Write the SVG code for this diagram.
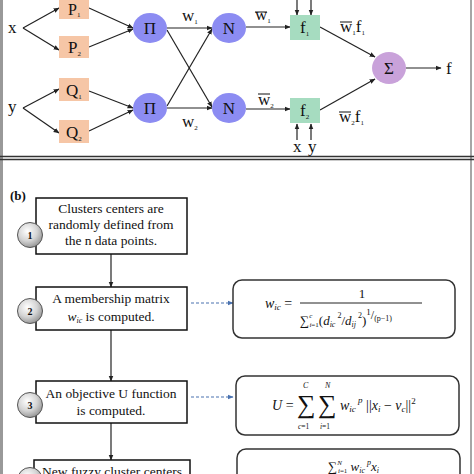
<svg xmlns="http://www.w3.org/2000/svg" width="474" height="474" viewBox="0 0 474 474">
<defs>
<marker id="ah" viewBox="0 0 10 10" refX="9" refY="5" markerWidth="6" markerHeight="6" orient="auto" markerUnits="userSpaceOnUse"><path d="M0,1 L10,5 L0,9 Z" fill="#222"/></marker>
<marker id="ahb" viewBox="0 0 10 10" refX="9" refY="5" markerWidth="6" markerHeight="6" orient="auto" markerUnits="userSpaceOnUse"><path d="M0,1 L10,5 L0,9 Z" fill="#4a72b0"/></marker>
<radialGradient id="gb" cx="0.4" cy="0.35" r="0.7"><stop offset="0" stop-color="#ffffff"/><stop offset="0.55" stop-color="#d4d4d4"/><stop offset="1" stop-color="#8f8f8f"/></radialGradient>
<style>
text{font-family:"Liberation Serif","Times New Roman",serif;fill:#111}
.lbl{font-size:17px}
.sub{font-size:7px}
.box{fill:#f6c6a6}
.fbox{fill:#a6dcc0}
.pi{fill:#8c8cf2}
.sig{fill:#c9a2da}
.ln{stroke:#222;stroke-width:1.2;fill:none}
.step{fill:#fff;stroke:#111;stroke-width:1.5}
.frm{fill:#fff;stroke:#333;stroke-width:1.5}
.num{fill:url(#gb);stroke:#555;stroke-width:1}
.bt{font-size:13.5px;text-anchor:middle}
.nt{font-size:10px;font-weight:bold;text-anchor:middle}
.mi{font-style:italic}
.dash{stroke:#4a72b0;stroke-width:1.2;stroke-dasharray:3,2;fill:none}
.frame{fill:none;stroke:#999;stroke-width:3}
</style>
</defs>
<rect width="474" height="474" fill="#fff"/>
<line x1="1.5" y1="0" x2="1.5" y2="474" class="frame"/>
<line x1="471" y1="0" x2="471" y2="474" stroke="#888" stroke-width="1.5"/>
<line x1="0" y1="156.5" x2="474" y2="156.5" stroke="#333" stroke-width="1.5"/>
<line x1="0" y1="159.5" x2="474" y2="159.5" stroke="#333" stroke-width="1.5"/>

<g id="connectors-a">
<path class="ln" d="M23,28 L59,8" marker-end="url(#ah)"/>
<path class="ln" d="M23,28 L59,50" marker-end="url(#ah)"/>
<path class="ln" d="M23,108 L59,89" marker-end="url(#ah)"/>
<path class="ln" d="M23,108 L59,133" marker-end="url(#ah)"/>
<path class="ln" d="M89,8 L133,28" marker-end="url(#ah)"/>
<path class="ln" d="M89,47 L133,29" marker-end="url(#ah)"/>
<path class="ln" d="M89,91 L133,108" marker-end="url(#ah)"/>
<path class="ln" d="M89,131 L133,110" marker-end="url(#ah)"/>
<path class="ln" d="M167,28 L212,28" marker-end="url(#ah)"/>
<path class="ln" d="M167,108 L212,108" marker-end="url(#ah)"/>
<path class="ln" d="M167,30 L212,107" marker-end="url(#ah)"/>
<path class="ln" d="M167,106 L212,29" marker-end="url(#ah)"/>
<path class="ln" d="M246,27 L290,27" marker-end="url(#ah)"/>
<path class="ln" d="M246,109 L290,109" marker-end="url(#ah)"/>
<path class="ln" d="M297,0 L297,15" marker-end="url(#ah)"/>
<path class="ln" d="M311,0 L311,15" marker-end="url(#ah)"/>
<path class="ln" d="M297,140 L297,124" marker-end="url(#ah)"/>
<path class="ln" d="M311,140 L311,124" marker-end="url(#ah)"/>
<path class="ln" d="M320,27 L375,57" marker-end="url(#ah)"/>
<path class="ln" d="M320,110 L375,79" marker-end="url(#ah)"/>
<path class="ln" d="M406,68 L441,68" marker-end="url(#ah)"/>
</g>

<g id="in-x"><text x="8" y="33" class="lbl">x</text></g>
<g id="in-y"><text x="8" y="112" class="lbl">y</text></g>
<g id="P1"><rect x="59" y="-3" width="30" height="22" class="box"/><text x="68" y="15" font-size="16">P<tspan class="sub" dy="2">1</tspan></text></g>
<g id="P2"><rect x="59" y="36" width="30" height="22" class="box"/><text x="68" y="53" class="lbl">P<tspan class="sub" dy="3">2</tspan></text></g>
<g id="Q1"><rect x="59" y="78" width="30" height="23" class="box"/><text x="66" y="96" class="lbl">Q<tspan class="sub" dy="3">1</tspan></text></g>
<g id="Q2"><rect x="59" y="120" width="30" height="23" class="box"/><text x="66" y="138" class="lbl">Q<tspan class="sub" dy="3">2</tspan></text></g>
<g id="Pi1"><ellipse cx="150" cy="28" rx="17" ry="15" class="pi"/><text x="150" y="34" class="lbl" text-anchor="middle" fill="#1a1a4a">Π</text></g>
<g id="Pi2"><ellipse cx="150" cy="108" rx="17" ry="15" class="pi"/><text x="150" y="114" class="lbl" text-anchor="middle" fill="#1a1a4a">Π</text></g>
<g id="N1"><ellipse cx="229" cy="28" rx="17" ry="15" class="pi"/><text x="229" y="34" class="lbl" text-anchor="middle" fill="#1a1a4a">N</text></g>
<g id="N2"><ellipse cx="229" cy="108" rx="17" ry="15" class="pi"/><text x="229" y="114" class="lbl" text-anchor="middle" fill="#1a1a4a">N</text></g>
<g id="f1"><rect x="290" y="15" width="30" height="25" class="fbox"/><text x="300" y="33" class="lbl">f<tspan class="sub" dy="3">1</tspan></text></g>
<g id="f2"><rect x="290" y="98" width="30" height="25" class="fbox"/><text x="300" y="116" class="lbl">f<tspan class="sub" dy="3">2</tspan></text></g>
<g id="Sigma"><ellipse cx="389" cy="68" rx="17" ry="16" class="sig"/><text x="389" y="74" class="lbl" text-anchor="middle" fill="#3a2a5a">Σ</text></g>
<g id="out-f"><text x="446" y="74" class="lbl">f</text></g>
<g id="labels-a">
<text x="182" y="21" class="lbl">w<tspan class="sub" dy="3">1</tspan></text>
<text x="182" y="127" class="lbl">w<tspan class="sub" dy="3">2</tspan></text>
<text x="255" y="20" class="lbl">w<tspan class="sub" dy="3">1</tspan></text>
<line x1="255" y1="12" x2="267" y2="12" stroke="#111" stroke-width="1"/>
<text x="258" y="105" class="lbl">w<tspan class="sub" dy="3">2</tspan></text>
<line x1="258" y1="94" x2="270" y2="94" stroke="#111" stroke-width="1"/>
<text x="340" y="32" class="lbl">w<tspan class="sub" dy="3">1</tspan><tspan dy="-3">f</tspan><tspan class="sub" dy="3">1</tspan></text>
<line x1="340" y1="22" x2="352" y2="22" stroke="#111" stroke-width="1"/>
<text x="339" y="122" class="lbl">w<tspan class="sub" dy="3">2</tspan><tspan dy="-3">f</tspan><tspan class="sub" dy="3">1</tspan></text>
<line x1="339" y1="112" x2="351" y2="112" stroke="#111" stroke-width="1"/>
<text x="293" y="152" class="lbl">x</text>
<text x="308" y="152" class="lbl">y</text>
</g>

<text x="10" y="200" font-size="13" font-weight="bold">(b)</text>
<g id="connectors-b">
<path class="ln" d="M111,254 L111,287" marker-end="url(#ah)"/>
<path class="ln" d="M111,330 L111,381" marker-end="url(#ah)"/>
<path class="ln" d="M111,423 L111,460" marker-end="url(#ah)"/>
<path class="dash" d="M191,303 L233,303" marker-end="url(#ahb)"/>
<path class="dash" d="M191,397 L233,397" marker-end="url(#ahb)"/>
</g>
<g id="step1"><rect x="36" y="198" width="151" height="56" class="step"/>
<text x="111" y="213" class="bt">Clusters centers are</text>
<text x="111" y="229" class="bt">randomly defined from</text>
<text x="111" y="245" class="bt">the n data points.</text>
<circle cx="30" cy="235" r="12.5" class="num"/><text x="30" y="239" class="nt">1</text></g>
<g id="step2"><rect x="36" y="287" width="151" height="43" class="step"/>
<text x="111" y="303" class="bt">A membership matrix</text>
<text x="111" y="321" class="bt"><tspan class="mi">w</tspan><tspan class="mi" font-size="8" dy="2">ic</tspan><tspan dy="-2"> is computed.</tspan></text>
<circle cx="30" cy="311" r="12.5" class="num"/><text x="30" y="315" class="nt">2</text></g>
<g id="step3"><rect x="36" y="381" width="151" height="42" class="step"/>
<text x="111" y="398" class="bt">An objective U function</text>
<text x="111" y="415" class="bt">is computed.</text>
<circle cx="30" cy="405" r="12.5" class="num"/><text x="30" y="409" class="nt">3</text></g>
<g id="step4"><rect x="34" y="460" width="156" height="30" class="step"/>
<text x="112" y="476" class="bt">New fuzzy cluster centers</text>
<circle cx="30" cy="480" r="12.5" class="num"/></g>

<g id="formula1"><rect x="233" y="280" width="222" height="58" rx="9" class="frm"/>
<text x="265" y="308" font-size="14"><tspan class="mi">w</tspan><tspan class="mi" font-size="9" dy="2">ic</tspan><tspan dy="-2"> =</tspan></text>
<line x1="300" y1="303" x2="422" y2="303" stroke="#222" stroke-width="1"/>
<text x="362" y="298" font-size="13" text-anchor="middle">1</text>
<text x="300" y="325" font-size="13"><tspan>∑</tspan><tspan class="mi" font-size="7" dy="-7">c</tspan><tspan font-size="7" dx="-3" dy="9"><tspan class="mi">i</tspan>=1</tspan><tspan dy="-2">(</tspan><tspan class="mi">d</tspan><tspan class="mi" font-size="8" dy="2">ic</tspan><tspan font-size="8" dy="-9"> 2</tspan><tspan dy="7">/</tspan><tspan class="mi">d</tspan><tspan class="mi" font-size="8" dy="2">ij</tspan><tspan font-size="8" dy="-9"> 2</tspan><tspan dy="7">)</tspan><tspan font-size="9" dy="-10">1</tspan><tspan font-size="12" dy="4">/</tspan><tspan font-size="8" dy="2">(p−1)</tspan></text>
</g>
<g id="formula2"><rect x="236" y="376" width="223" height="59" rx="9" class="frm"/>
<text x="272" y="410" font-size="14"><tspan class="mi">U</tspan> =</text>
<text x="297" y="413" font-size="26">∑</text>
<text x="318" y="413" font-size="26">∑</text>
<text x="303" y="388" font-size="8" class="mi">C</text>
<text x="325" y="388" font-size="8" class="mi">N</text>
<text x="298" y="429" font-size="7.5"><tspan class="mi">c</tspan>=1</text>
<text x="320" y="429" font-size="7.5"><tspan class="mi">i</tspan>=1</text>
<text x="340" y="410" font-size="14"><tspan class="mi">w</tspan><tspan class="mi" font-size="9" dy="2">ic</tspan><tspan class="mi" font-size="9" dy="-9"> p</tspan><tspan dy="7"> ||</tspan><tspan class="mi">x</tspan><tspan class="mi" font-size="9" dy="2">i</tspan><tspan dy="-2"> − </tspan><tspan class="mi">v</tspan><tspan class="mi" font-size="9" dy="2">c</tspan><tspan dy="-2">||</tspan><tspan font-size="9" dy="-6">2</tspan></text>
</g>
<g id="formula3"><rect x="237" y="449" width="223" height="40" rx="9" class="frm"/>
<text x="328" y="471" font-size="13"><tspan>∑</tspan><tspan class="mi" font-size="7" dy="-6">N</tspan><tspan font-size="7" dx="-4" dy="8"><tspan class="mi">i</tspan>=1</tspan><tspan dy="-2"> </tspan><tspan class="mi">w</tspan><tspan class="mi" font-size="8" dy="2">ic</tspan><tspan class="mi" font-size="8" dy="-8"> p</tspan><tspan class="mi" dy="6">x</tspan><tspan class="mi" font-size="8" dy="2">i</tspan></text>
</g>
</svg>
